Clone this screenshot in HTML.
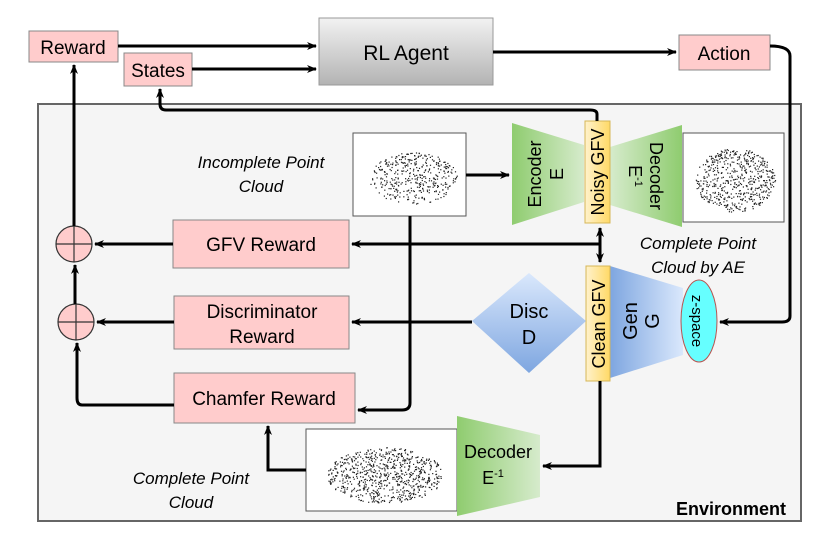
<!DOCTYPE html>
<html><head><meta charset="utf-8"><style>
body{margin:0;background:#fff}
svg{display:block;font-family:"Liberation Sans",sans-serif}
</style></head><body>
<svg id="s" width="823" height="554" viewBox="0 0 823 554" xmlns="http://www.w3.org/2000/svg">
<defs>
<marker id="a" markerWidth="10" markerHeight="8" refX="9" refY="4" orient="auto" markerUnits="userSpaceOnUse"><path d="M0,0 L10,4 L0,8 L3,4 z" fill="#000"/></marker>
<marker id="b" markerWidth="10" markerHeight="8" refX="1" refY="4" orient="auto" markerUnits="userSpaceOnUse"><path d="M10,0 L0,4 L10,8 L7,4 z" fill="#000"/></marker>
<linearGradient id="gray" x1="0" y1="0" x2="0" y2="1"><stop offset="0" stop-color="#f2f2f2"/><stop offset="1" stop-color="#b3b3b3"/></linearGradient>
<linearGradient id="grL" x1="0" y1="0" x2="1" y2="0"><stop offset="0" stop-color="#8fcc6f"/><stop offset="1" stop-color="#d6ebcc"/></linearGradient>
<linearGradient id="grR" x1="1" y1="0" x2="0" y2="0"><stop offset="0" stop-color="#8fcc6f"/><stop offset="1" stop-color="#d6ebcc"/></linearGradient>
<linearGradient id="bl" x1="0" y1="0" x2="1" y2="0"><stop offset="0" stop-color="#7ea6e0"/><stop offset="1" stop-color="#dae8fc"/></linearGradient>
<linearGradient id="bd" x1="0" y1="0" x2="0" y2="1"><stop offset="0" stop-color="#dae8fc"/><stop offset="1" stop-color="#7ea6e0"/></linearGradient>
<linearGradient id="yl" x1="0" y1="0" x2="1" y2="0"><stop offset="0" stop-color="#fff2cc"/><stop offset="1" stop-color="#ffd966"/></linearGradient>
</defs>
<rect x="38" y="104" width="763" height="417" fill="#f5f5f5" stroke="#666" stroke-width="2"/>
<text x="786" y="515" font-size="18" font-weight="bold" text-anchor="end">Environment</text>

<rect x="319" y="18" width="174" height="67" fill="url(#gray)" stroke="#999"/>
<text x="406" y="60" font-size="21" text-anchor="middle">RL Agent</text>
<g fill="#ffcccc" stroke="#888">
<rect x="29" y="31" width="89" height="31"/><rect x="124" y="53" width="68" height="33"/><rect x="679" y="35" width="91" height="35"/>
<rect x="173" y="220" width="176" height="48"/><rect x="174" y="296" width="175" height="53"/><rect x="174" y="373" width="181" height="50"/>
</g>
<g font-size="19" text-anchor="middle">
<text x="73" y="54">Reward</text><text x="158" y="77">States</text><text x="724" y="60">Action</text>
<text x="261" y="251">GFV Reward</text><text x="262" y="318">Discriminator</text><text x="262" y="343">Reward</text>
<text x="264" y="405">Chamfer Reward</text>
</g>
<g font-size="17" font-style="italic" text-anchor="middle">
<text x="261" y="168">Incomplete Point</text><text x="261" y="192">Cloud</text>
<text x="698" y="249">Complete Point</text><text x="698" y="273">Cloud by AE</text>
<text x="191" y="484">Complete Point</text><text x="191" y="508">Cloud</text>
</g>
<g fill="#ffcccc" stroke="#333" stroke-width="1.2">
<circle cx="74" cy="244" r="18"/><circle cx="76" cy="322" r="18"/>
</g>
<path d="M56,244H92M74,226V262M58,322H94M76,304V340" stroke="#333" stroke-width="1.2"/>

<g fill="#fff" stroke="#555"><rect x="353" y="133" width="113" height="83"/><rect x="683" y="133" width="101" height="89"/><rect x="306" y="429" width="151" height="82"/></g>
<g id="pc"></g>

<polygon points="512,123 584,145 584,202 512,225" fill="url(#grL)"/>
<polygon points="682,125 610,147 610,205 682,227" fill="url(#grR)"/>
<polygon points="457,416 540,435 540,497 457,516" fill="url(#grL)"/>
<polygon points="610,266 683,288 683,355 610,378" fill="url(#bl)"/>
<rect x="585" y="121" width="25" height="102" fill="url(#yl)" stroke="#d6b656"/>
<rect x="586" y="266" width="24" height="115" fill="url(#yl)" stroke="#d6b656"/>
<polygon points="529,273 586,321 529,373 472,321" fill="url(#bd)"/>
<ellipse cx="699" cy="321" rx="18" ry="41" fill="#66ffff" stroke="#b85450"/>
<g font-size="18" text-anchor="middle">
<text transform="translate(541,174) rotate(-90)">Encoder</text><text transform="translate(563,174) rotate(-90)">E</text>
<text transform="translate(604,172) rotate(-90)">Noisy GFV</text>
<text transform="translate(605,324) rotate(-90)">Clean GFV</text>
<text transform="translate(650,176) rotate(90)">Decoder</text><text transform="translate(629,176) rotate(90)">E<tspan font-size="11" dy="-6">-1</tspan></text>
<text transform="translate(637,321) rotate(-90)" font-size="20">Gen</text><text transform="translate(659,321) rotate(-90)" font-size="20">G</text>
<text transform="translate(692,321) rotate(90)" font-size="15">z-space</text>
<text x="529" y="318" font-size="20">Disc</text><text x="529" y="344" font-size="20">D</text>
<text x="498" y="458">Decoder</text><text x="493" y="484">E<tspan font-size="11" dy="-7">-1</tspan></text>
</g>

<g stroke="#000" stroke-width="3" fill="none">
<path d="M118,46H316" marker-end="url(#a)"/>
<path d="M192,69H316" marker-end="url(#a)"/>
<path d="M493,52H676" marker-end="url(#a)"/>
<path d="M770,46 Q790,46 790,56 V316 Q790,322 782,322 H720" marker-end="url(#a)"/>
<path d="M597,121 V114 Q597,110 590,110 H166 Q160,110 160,104 V89" marker-end="url(#a)"/>
<path d="M466,175H509" marker-end="url(#a)"/>
<path d="M410,216V403 Q410,410 402,410 H358" marker-end="url(#a)"/>
<path d="M600,244H352" marker-end="url(#a)"/>
<path d="M472,322H352" marker-end="url(#a)"/>
<path d="M173,244H95" marker-end="url(#a)"/>
<path d="M174,322H97" marker-end="url(#a)"/>
<path d="M600,228V262" marker-start="url(#b)" marker-end="url(#a)"/>
<path d="M600,381V466H543" marker-end="url(#a)"/>
<path d="M306,470H268V426" marker-end="url(#a)"/>
<path d="M174,405H82 Q77,405 77,398 V343" marker-end="url(#a)"/>
<path d="M75,304V265" marker-end="url(#a)"/>
<path d="M74,226V65" marker-end="url(#a)"/>
</g>
</svg>
<script>
(function(){
var g=document.getElementById('pc'),ns='http://www.w3.org/2000/svg',seed=7;
function r(){seed=(seed*16807)%2147483647;return seed/2147483647;}
function cloud(cx,cy,rx,ry,n){for(var i=0;i<n;i++){var a=r()*6.283,d=Math.sqrt(r());var c=document.createElementNS(ns,'rect');c.setAttribute('x',(cx+Math.cos(a)*d*rx).toFixed(1));c.setAttribute('y',(cy+Math.sin(a)*d*ry).toFixed(1));c.setAttribute('width',1.2);c.setAttribute('height',1.2);c.setAttribute('fill','#222');g.appendChild(c);}}
cloud(413,178,44,26,400);cloud(735,180,40,32,550);cloud(385,475,58,28,750);
})();
</script>
</body></html>
